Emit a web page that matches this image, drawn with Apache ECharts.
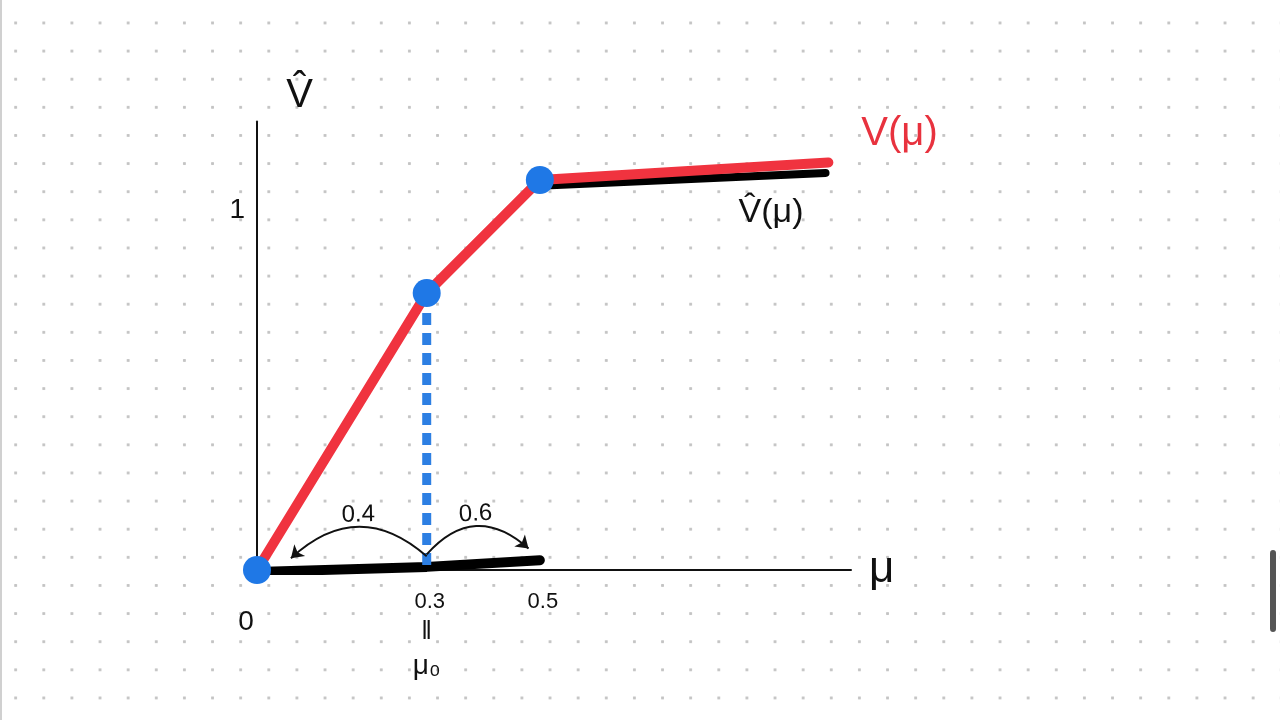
<!DOCTYPE html>
<html><head><meta charset="utf-8">
<script src="https://cdn.jsdelivr.net/npm/echarts@6/dist/echarts.min.js"></script>
<style>
html,body{margin:0;padding:0;width:1280px;height:720px;overflow:hidden;background:#fff;}
body{background-image:radial-gradient(circle,#c4c4c4 1.3px,transparent 1.8px);background-size:28.13px 28.13px;background-position:1.6px 8.9px;}
#main{width:1280px;height:720px;position:absolute;left:0;top:0;}
#edge{position:absolute;left:0;top:0;width:2px;height:720px;background:#d0d0d0;}
#scroll{position:absolute;left:1270px;top:550px;width:6px;height:82px;background:#555;border-radius:3px;}
</style></head>
<body>
<div id="edge"></div><div id="scroll"></div>
<div id="main"></div>
<script>
// values
const xTicks = [0, 0.3, 0.5];
const xTickLabels = ['{z|0}', '{t|0.3}\n{eq|‖}\n{m|μ₀}', '{t|0.5}'];
const concavePts = [[0, 0], [0.3, 0.71], [0.5, 1], [1.01, 1.045]];      // V(μ), red
const stepLow = [[0, -0.005], [0.3, 0.008], [0.5, 0.025]];               // V̂(μ) lower piece
const stepHigh = [[0.5, 0.985], [1.005, 1.018]];                          // V̂(μ) upper piece
const keyPts = [[0, 0], [0.3, 0.71], [0.5, 1]];                           // blue dots
const mu0Drop = [[0.3, 0.71], [0.3, 0]];                                  // dashed drop at μ0
const splitArcs = [
  {from: [0.3, 0.035], to: [0.06, 0.03], text: '0.4', curve: -0.45},
  {from: [0.3, 0.04], to: [0.48, 0.055], text: '0.6', curve: 0.5}
];
const redLabel = 'V(μ)';
const blackLabel = 'V̂(μ)';
const yAxisName = 'V̂';
const xAxisName = 'μ';

const chart = echarts.init(document.getElementById('main'), null, {renderer: 'canvas'});
const hand = '"Liberation Sans", "DejaVu Sans", sans-serif';
chart.setOption({
  backgroundColor: 'transparent',
  animation: false,
  grid: {left: 257, top: 121.5, width: 594, bottom: 150, containLabel: false},
  xAxis: {
    type: 'value', min: 0, max: 1.05,
    name: xAxisName, nameLocation: 'end', nameGap: 18,
    nameTextStyle: {fontSize: 44, color: '#111', fontFamily: hand, padding: [34, 0, 0, 0]},
    axisLine: {show: true, lineStyle: {color: '#111', width: 2}},
    axisTick: {show: false},
    splitLine: {show: false},
    axisLabel: {
      customValues: xTicks,
      formatter: v => xTickLabels[xTicks.indexOf(v)] ?? '',
      color: '#111', fontFamily: hand, margin: 16,
      rich: {
        z: {fontSize: 28, color: '#111', fontFamily: hand, padding: [22, 22, 0, 0]},
        t: {fontSize: 22, color: '#111', fontFamily: hand, lineHeight: 28, padding: [4, 0, 0, 6]},
        eq: {fontSize: 26, color: '#111', fontFamily: hand, lineHeight: 36},
        m: {fontSize: 28, color: '#111', fontFamily: hand, lineHeight: 32}
      }
    }
  },
  yAxis: {
    type: 'value', min: 0, max: 1.15, interval: 1,
    name: yAxisName, nameLocation: 'end', nameGap: 6,
    nameTextStyle: {fontSize: 40, color: '#111', fontFamily: hand, padding: [0, 0, 0, 85]},
    axisLine: {show: true, lineStyle: {color: '#111', width: 2}},
    axisTick: {show: false},
    splitLine: {show: false},
    axisLabel: {
      formatter: v => v === 1 ? '1' : '',
      color: '#111', fontSize: 28, fontFamily: hand, margin: 12, verticalAlign: 'top', padding: [16, 0, 0, 0]
    }
  },
  series: [
    {
      type: 'line', data: stepLow, showSymbol: false, z: 3,
      lineStyle: {color: '#000', width: 10, cap: 'round'}
    },
    {
      type: 'line', data: stepHigh, showSymbol: false, z: 3,
      lineStyle: {color: '#000', width: 8, cap: 'round'},
      endLabel: {show: true, formatter: blackLabel, color: '#111', fontSize: 34, fontFamily: hand, offset: [-95, 40]}
    },
    {
      type: 'line', data: concavePts, showSymbol: false, z: 4,
      lineStyle: {color: '#f0333f', width: 10, cap: 'round', join: 'round'},
      endLabel: {show: true, formatter: redLabel, color: '#e8323e', fontSize: 40, fontFamily: hand, offset: [25, -28]}
    },
    {
      type: 'line', data: mu0Drop, showSymbol: false, z: 5,
      lineStyle: {color: '#2d7fe3', width: 9, type: [12, 8]}
    },
    {
      type: 'lines', coordinateSystem: 'cartesian2d', z: 6,
      symbol: ['none', 'arrow'], symbolSize: 12,
      lineStyle: {color: '#111', width: 2, opacity: 1},
      label: {show: true, position: 'middle', color: '#111', fontSize: 24, fontFamily: hand, distance: 0,
        formatter: p => p.data.text},
      data: splitArcs.map(a => ({
        coords: [a.from, a.to], text: a.text,
        lineStyle: {curveness: a.curve},
        label: {offset: a.text === '0.4' ? [0, 0] : [0, 0]}
      }))
    },
    {
      type: 'scatter', data: keyPts, symbolSize: 28, z: 7,
      itemStyle: {color: '#1f78e6', opacity: 1}
    }
  ]
});
</script>
</body></html>
